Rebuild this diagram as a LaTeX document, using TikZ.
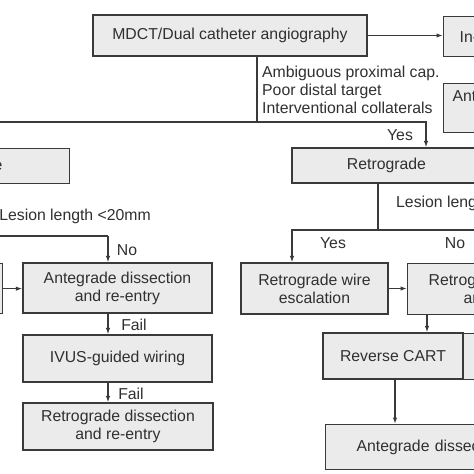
\documentclass[tikz,border=0pt]{standalone}
\usepackage{fontspec}
\setmainfont{Liberation Sans}
\usetikzlibrary{arrows.meta}
\definecolor{boxc}{HTML}{EBEBEB}
\definecolor{linec}{HTML}{3A3A3A}
\definecolor{textc}{HTML}{303030}
\begin{document}
\begin{tikzpicture}[x=1pt,y=-1pt,
  font=\fontsize{15.8}{18}\selectfont,
  box/.style={draw=linec,fill=boxc,line width=1.3pt,inner sep=0pt,align=center,text=textc},
  lbl/.style={inner sep=0pt,text=textc,align=left},
  ln/.style={draw=linec,line width=1.3pt},
  arr/.style={ln,-{Latex[length=6.5pt,width=4.5pt]}}]
\useasboundingbox (0,0) rectangle (474,474);
\fill[white] (0,0) rectangle (474,474);
\clip (0,0) rectangle (474,474);
% boxes
\node[box,minimum width=274pt,minimum height=41pt] (mdct) at (230,35.5) {MDCT/Dual catheter angiography};
\node[box,anchor=north west,inner xsep=16pt,text width=70pt,align=left,minimum height=40pt] (inbox) at (443,16) {In-};
\node[box,anchor=north west,inner xsep=9pt,text width=70pt,align=left,minimum height=49pt] (antbox) at (443,83) {Ant\\\strut};
\node[box,anchor=north east,inner xsep=15.6pt,text width=60pt,align=left,minimum height=35pt] (leftA) at (70,148) {e};
\node[box,minimum width=189pt,minimum height=35pt] (retro) at (386.5,165.5) {Retrograde};
\node[box,anchor=north east,minimum width=50pt,minimum height=50pt] (lb2) at (3,263) {};
\node[box,minimum width=189pt,minimum height=50pt] (ante) at (117.5,288) {Antegrade dissection\\and re-entry};
\node[box,minimum width=189pt,minimum height=47pt] (ivus) at (117.5,358.5) {IVUS-guided wiring};
\node[box,minimum width=190pt,minimum height=47pt] (rdis) at (118,426.5) {Retrograde dissection\\and re-entry};
\node[box,minimum width=147pt,minimum height=51pt] (wire) at (314.5,288.5) {Retrograde wire\\escalation};
\node[box,anchor=north west,inner xsep=21pt,text width=100pt,align=left,minimum height=51pt] (retrog) at (407,263) {Retrog\\\hspace*{35pt}ar};
\node[box,minimum width=140pt,minimum height=46pt] (rcart) at (393,356) {Reverse CART};
\node[box,anchor=north west,minimum width=50pt,minimum height=46pt] (adj) at (463,333) {};
\node[box,anchor=north west,inner xsep=31pt,text width=130pt,align=left,minimum height=45pt] (ad2) at (325,424) {Antegrade dissec};
% labels
\node[lbl,anchor=north west] (crit) at (262,66) {Ambiguous proximal cap.\\Poor distal target\\Interventional collaterals};
\node[lbl] (yes1) at (400,135) {Yes};
\node[lbl,anchor=east] (len1) at (151,216) {Lesion length <20mm};
\node[lbl] (no1) at (127,250) {No};
\node[lbl] (fail1) at (134,325) {Fail};
\node[lbl] (fail2) at (131,394) {Fail};
\node[lbl,anchor=west] (len2) at (396,203) {Lesion leng};
\node[lbl] (yes2) at (333,243) {Yes};
\node[lbl] (no2) at (455,243) {No};
% junctions
\coordinate (j1) at (257,122);
\coordinate (offL1) at (-5,122);
\coordinate (yesT) at (426,122);
\coordinate (jr) at (378,230);
\coordinate (rl) at (292,230);
\coordinate (offR) at (480,230);
\coordinate (offL2) at (-5,236);
\coordinate (jl) at (108,236);
\coordinate (cx108) at (108,0);
\coordinate (cx427) at (427,0);
\coordinate (cx395) at (395,0);
% connectors
\draw[arr] (mdct.east) -- (mdct.east -| inbox.west);
\draw[ln] (j1 |- mdct.south) -- (j1);
\draw[arr] (offL1) -- (yesT) -- (yesT |- retro.north);
\draw[ln] (jr |- retro.south) -- (jr);
\draw[arr] (offR) -- (rl) -- (rl |- wire.north);
\draw[ln] (offL2) -- (jl);
\draw[arr] (jl) -- (jl |- ante.north);
\draw[arr] (lb2.east) -- (lb2.east -| ante.west);
\draw[arr] (ante.south -| cx108) -- (ivus.north -| cx108);
\draw[arr] (ivus.south -| cx108) -- (rdis.north -| cx108);
\draw[arr] (wire.east) -- (wire.east -| retrog.west);
\draw[arr] (retrog.south -| cx427) -- (rcart.north -| cx427);
\draw[arr] (rcart.south -| cx395) -- (ad2.north -| cx395);
\end{tikzpicture}
\end{document}
